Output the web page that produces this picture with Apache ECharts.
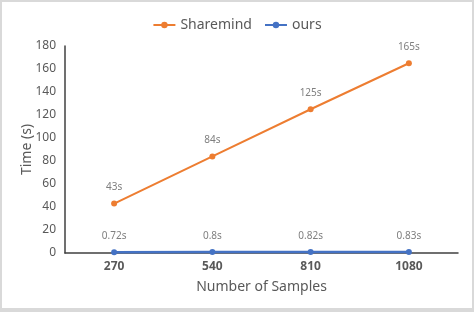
<!DOCTYPE html>
<html>
<head>
<meta charset="utf-8">
<script src="https://cdn.jsdelivr.net/npm/echarts@6/dist/echarts.min.js"></script>
<style>
html,body{margin:0;padding:0;background:#fff;}
#chart{width:470px;height:306px;border:2px solid #d9d9d9;border-bottom-width:4px;}
</style>
</head>
<body>
<div id="chart"></div>
<script>
var samples = ['270', '540', '810', '1080'];
var sharemind = [43, 84, 125, 165];
var ours = [0.72, 0.8, 0.82, 0.83];

var chart = echarts.init(document.getElementById('chart'));
var font = 'Noto Sans, DejaVu Sans, sans-serif';

var option = {
	animation: false,
	textStyle: { fontFamily: font },
	color: ['#ED7D31', '#4472C4'],
	legend: {
		top: 11,
		left: 'center',
		itemWidth: 22,
		itemHeight: 8,
		itemGap: 12,
		textStyle: { color: '#595959', fontSize: 14 },
		data: ['Sharemind', 'ours']
	},
	grid: { left: 63, right: 14, top: 44, bottom: 55 },
	xAxis: {
		type: 'category',
		data: samples,
		name: 'Number of Samples',
		nameLocation: 'middle',
		nameMoveOverlap: false,
		nameGap: 27,
		nameTextStyle: { color: '#595959', fontSize: 14 },
		axisLine: { lineStyle: { color: '#404040', width: 1.5 } },
		axisTick: { show: false },
		axisLabel: { color: '#595959', fontSize: 12, fontWeight: 'bold', margin: 8 }
	},
	yAxis: {
		type: 'value',
		min: 0,
		max: 180,
		interval: 20,
		name: 'Time (s)',
		nameLocation: 'middle',
		nameMoveOverlap: false,
		nameGap: 31,
		nameTextStyle: { color: '#595959', fontSize: 14 },
		axisLine: { show: true, lineStyle: { color: '#404040', width: 1.5 } },
		axisTick: { show: false },
		splitLine: { show: false },
		axisLabel: { color: '#595959', fontSize: 12, margin: 9 }
	},
	series: [{
		name: 'Sharemind',
		type: 'line',
		data: sharemind,
		symbol: 'circle',
		symbolSize: 6,
		lineStyle: { width: 2 },
		label: {
			show: true,
			position: 'top',
			distance: 8,
			color: '#7f7f7f',
			fontSize: 10,
			formatter: '{c}s'
		}
	}, {
		name: 'ours',
		type: 'line',
		data: ours,
		symbol: 'circle',
		symbolSize: 6,
		lineStyle: { width: 2.5 },
		label: {
			show: true,
			position: 'top',
			distance: 8,
			color: '#7f7f7f',
			fontSize: 10,
			formatter: '{c}s'
		}
	}]
};

chart.setOption(option);
</script>
</body>
</html>
